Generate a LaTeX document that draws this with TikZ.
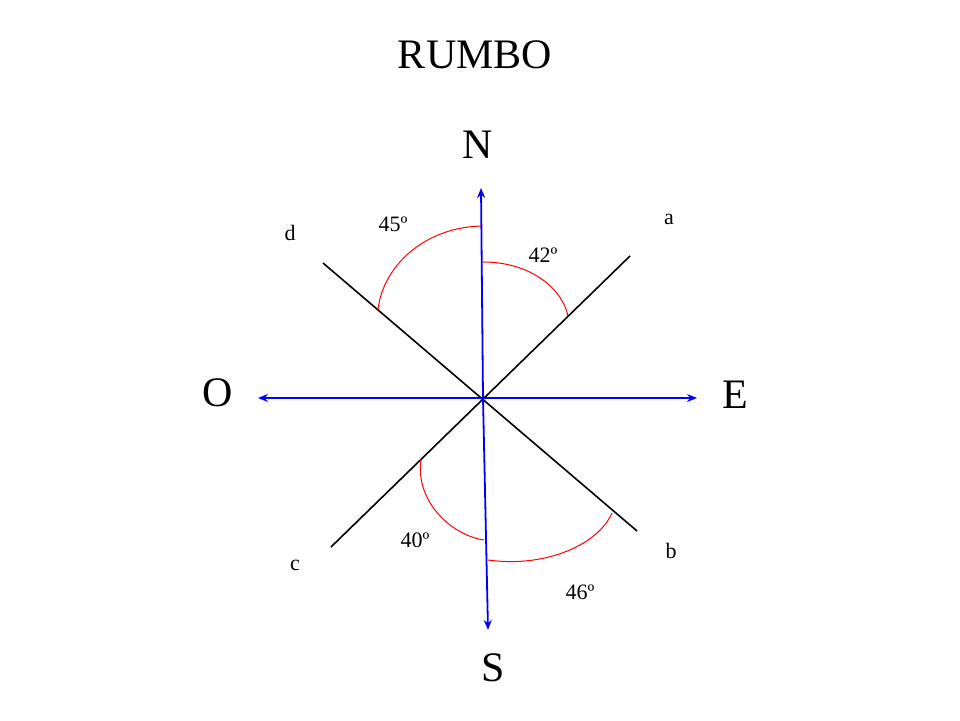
\documentclass[tikz,border=0pt]{standalone}
\usetikzlibrary{arrows.meta}
\usepackage{fontspec}
\setmainfont{Liberation Serif}
\begin{document}
\begin{tikzpicture}[x=1pt,y=1pt,
  ax/.style={blue,line width=1.8pt,-{Stealth[length=10pt,width=8pt]}},
  ln/.style={black,line width=1.6pt},
  ar/.style={red,line width=1pt},
  big/.style={font=\fontsize{42}{42}\selectfont},
  sm/.style={font=\fontsize{22}{22}\selectfont}]
\useasboundingbox (0,0) rectangle (960,720);
\coordinate (C) at (483,322);
\coordinate (Nt) at (481,532); \coordinate (St) at (488,90);
\coordinate (Ot) at (258,322); \coordinate (Et) at (697,322);
\coordinate (A) at (630,464); \coordinate (Cc) at (331,173);
\coordinate (D) at (323,457); \coordinate (B) at (637,189);
\draw[ln] (A) -- (Cc);
\draw[ln] (D) -- (B);
\draw[ax] (C) -- (Nt);
\draw[ax] (C) -- (St);
\draw[ax] (C) -- (Ot);
\draw[ax] (C) -- (Et);
\draw[ar] (483,458) .. controls (530,458) and (562,432) .. (568,404);
\draw[ar] (481,494) .. controls (420,492) and (382,450) .. (378,410);
\draw[ar] (488,160) .. controls (545,152) and (598,175) .. (612,207);
\draw[ar] (421,260) .. controls (415,220) and (450,185) .. (484,180);
\node[big] (t) at (475,665) {RUMBO};
\node[big] (n) at (478,575) {N};
\node[big] (s) at (493,52) {S};
\node[big] (o) at (218,327) {O};
\node[big] (e) at (735,325) {E};
\node[sm] (la) at (669,501) {a};
\node[sm] (lb) at (671,169) {b};
\node[sm] (lc) at (295,155) {c};
\node[sm] (ld) at (290,487) {d};
\node[sm] (g1) at (393,496) {45º};
\node[sm] (g2) at (543,465) {42º};
\node[sm] (g3) at (415,180) {40º};
\node[sm] (g4) at (580,128) {46º};
\end{tikzpicture}
\end{document}
